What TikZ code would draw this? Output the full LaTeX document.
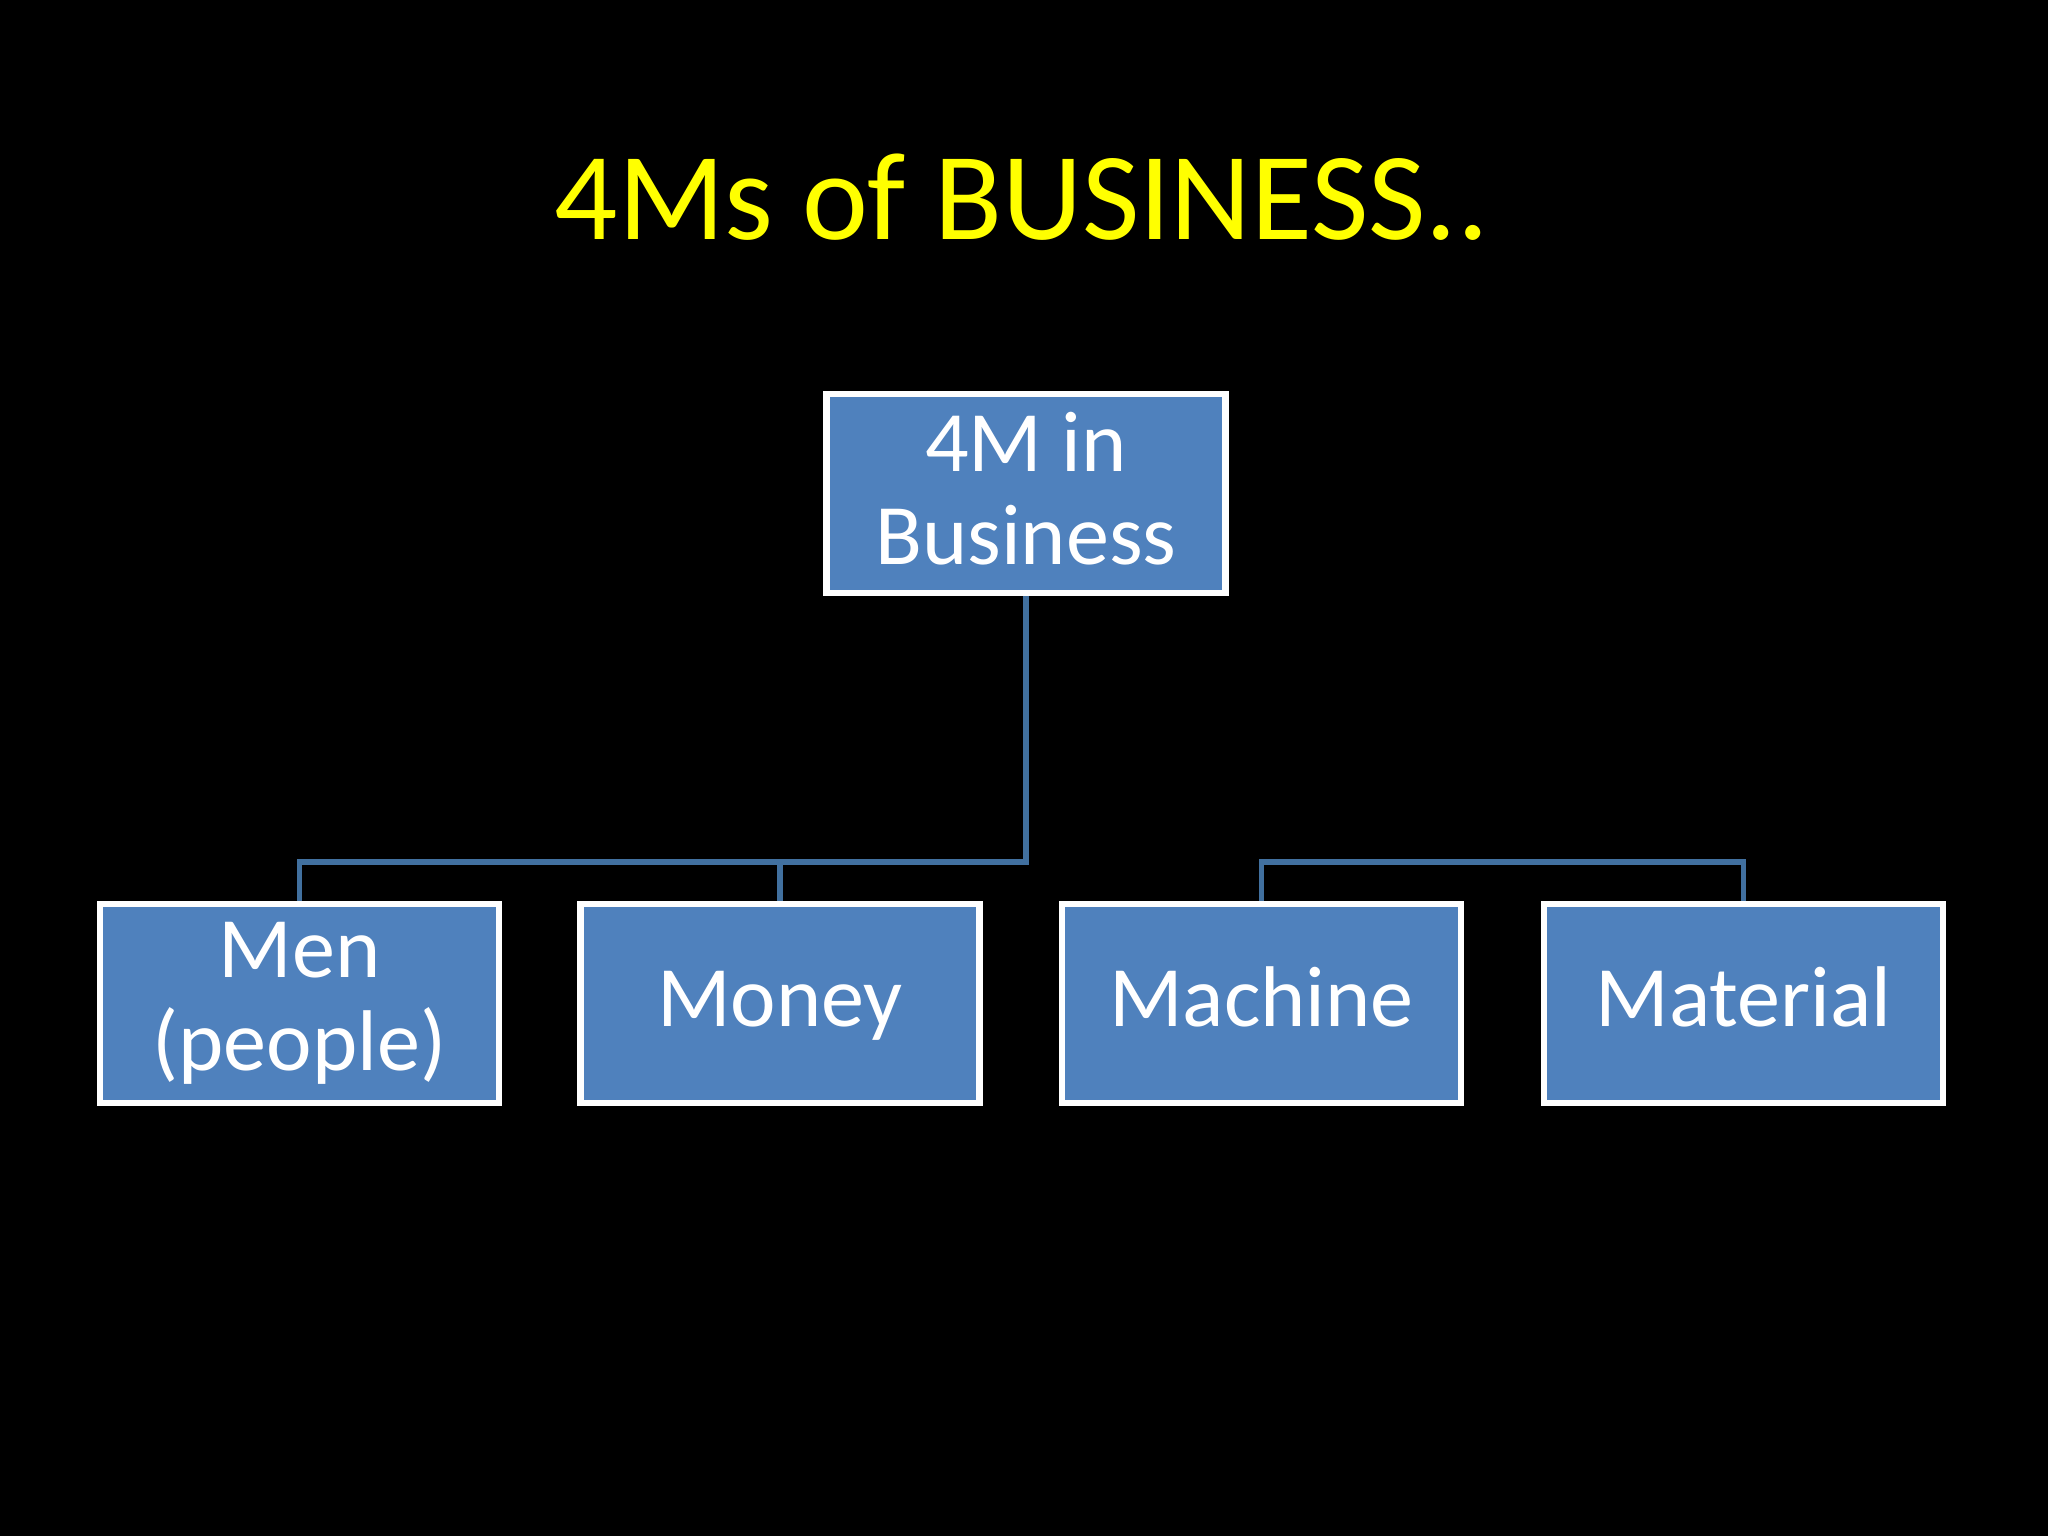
\documentclass[tikz,border=0pt]{standalone}
\usepackage{fontspec}
\setmainfont{Carlito}
\usetikzlibrary{backgrounds}
\definecolor{boxblue}{HTML}{4F81BD}
\definecolor{linkblue}{HTML}{41709F}
\definecolor{titleyellow}{HTML}{FFFF00}
\begin{document}
\begin{tikzpicture}[x=0.01cm,y=-0.01cm,
  box/.style={draw=white, line width=1.8pt, fill=boxblue, text=white,
    minimum width=3.99cm, minimum height=1.99cm, inner sep=0pt, align=center,
    font=\fontsize{24.5}{26.3}\selectfont},
  oneline/.style={text height=16pt, text depth=3.2pt},
  link/.style={draw=linkblue, line width=1.5pt}]
\begin{scope}[on background layer]
  \fill[black] (0,0) rectangle (2048,1536);
\end{scope}
\useasboundingbox (0,0) rectangle (2048,1536);
\node[text=titleyellow, anchor=base, inner sep=0pt, font=\fontsize{35.5}{40}\selectfont] (title) at (1022,239) {4Ms of BUSINESS..};
\node[box, text depth=3pt] (top) at (1026,493.5) {4M in\\Business};
\node[box] (men) at (299.5,1003.5) {Men\\(people)};
\node[box, oneline] (money) at (780,1003.5) {Money};
\node[box, oneline] (machine) at (1261.5,1003.5) {Machine};
\node[box, oneline] (material) at (1743.5,1003.5) {Material};
\coordinate (j) at (1027,862);
\begin{scope}[on background layer]
  \draw[link] (top.south) -- (top.south |- j) -| (men.north);
  \draw[link] (money.north) -- (money.north |- j);
  \draw[link] (machine.north) -- (machine.north |- j) -| (material.north);
\end{scope}
\end{tikzpicture}
\end{document}
